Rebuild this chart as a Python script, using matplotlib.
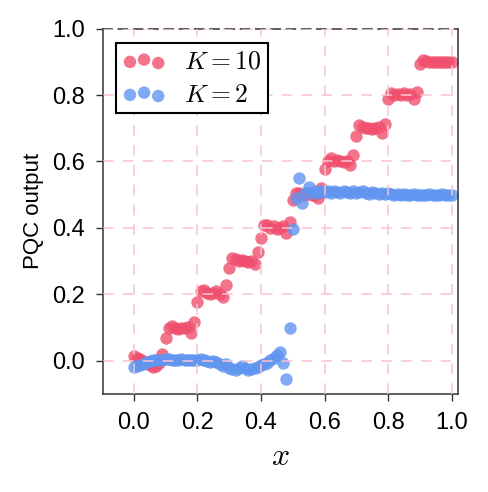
import numpy as np
import matplotlib
matplotlib.use("Agg")
import matplotlib.pyplot as plt

plt.rcParams['font.family'] = ['Liberation Sans', 'DejaVu Sans']
plt.rcParams['mathtext.fontset'] = 'cm'

# sample positions on the x axis
x_vals = [0.00, 0.01, 0.02, 0.03, 0.04, 0.05, 0.06, 0.07, 0.08, 0.09,
          0.10, 0.11, 0.12, 0.13, 0.14, 0.15, 0.16, 0.17, 0.18, 0.19,
          0.20, 0.21, 0.22, 0.23, 0.24, 0.25, 0.26, 0.27, 0.28, 0.29,
          0.30, 0.31, 0.32, 0.33, 0.34, 0.35, 0.36, 0.37, 0.38, 0.39,
          0.40, 0.41, 0.42, 0.43, 0.44, 0.45, 0.46, 0.47, 0.48, 0.49,
          0.50, 0.51, 0.52, 0.53, 0.54, 0.55, 0.56, 0.57, 0.58, 0.59,
          0.60, 0.61, 0.62, 0.63, 0.64, 0.65, 0.66, 0.67, 0.68, 0.69,
          0.70, 0.71, 0.72, 0.73, 0.74, 0.75, 0.76, 0.77, 0.78, 0.79,
          0.80, 0.81, 0.82, 0.83, 0.84, 0.85, 0.86, 0.87, 0.88, 0.89,
          0.90, 0.91, 0.92, 0.93, 0.94, 0.95, 0.96, 0.97, 0.98, 0.99, 1.00]

# PQC output, K = 10 (staircase)
y_k10 = [0.015, 0.010, 0.005, 0.000, -0.005, -0.012, -0.018, -0.015, -0.005, 0.022,
         0.068, 0.100, 0.105, 0.100, 0.095, 0.100, 0.098, 0.102, 0.085, 0.118,
         0.178, 0.210, 0.212, 0.205, 0.200, 0.205, 0.210, 0.200, 0.192, 0.228,
         0.278, 0.310, 0.308, 0.300, 0.305, 0.300, 0.296, 0.300, 0.290, 0.327,
         0.370, 0.408, 0.410, 0.400, 0.405, 0.398, 0.400, 0.405, 0.386, 0.418,
         0.483, 0.505, 0.505, 0.500, 0.500, 0.505, 0.500, 0.500, 0.490, 0.519,
         0.577, 0.600, 0.610, 0.600, 0.605, 0.600, 0.598, 0.602, 0.588, 0.620,
         0.678, 0.710, 0.705, 0.700, 0.702, 0.698, 0.700, 0.705, 0.686, 0.714,
         0.789, 0.805, 0.800, 0.802, 0.800, 0.805, 0.800, 0.802, 0.787, 0.810,
         0.892, 0.906, 0.902, 0.900, 0.900, 0.900, 0.900, 0.900, 0.900, 0.900, 0.900]

# PQC output, K = 2
y_k2 = [-0.017, -0.015, -0.012, -0.008, -0.003, 0.000, 0.002, 0.003, 0.002, 0.004,
        0.005, 0.005, 0.004, 0.003, 0.004, 0.005, 0.004, 0.003, 0.002, 0.003,
        0.004, 0.005, 0.003, 0.000, -0.002, 0.001, -0.003, -0.008, -0.015, -0.010,
        -0.020, -0.025, -0.028, -0.020, -0.015, -0.022, -0.027, -0.025, -0.020, -0.018,
        -0.012, -0.008, -0.005, 0.003, 0.008, 0.018, 0.027, -0.005, -0.055, 0.098,
        0.396, 0.490, 0.550, 0.475, 0.505, 0.523, 0.505, 0.510, 0.505, 0.510,
        0.508, 0.510, 0.505, 0.510, 0.507, 0.505, 0.510, 0.508, 0.505, 0.510,
        0.505, 0.508, 0.510, 0.505, 0.503, 0.508, 0.505, 0.503, 0.505, 0.502,
        0.505, 0.502, 0.500, 0.503, 0.500, 0.502, 0.498, 0.500, 0.502, 0.500,
        0.500, 0.498, 0.500, 0.502, 0.500, 0.498, 0.500, 0.502, 0.500, 0.500, 0.500]

ticks = [0.0, 0.2, 0.4, 0.6, 0.8, 1.0]

fig = plt.figure(figsize=(4.89, 4.92), dpi=100)
ax = fig.add_axes([0.2106, 0.199, 0.726, 0.743])

ax.scatter(x_vals, y_k10, s=80, color='#f0506e', alpha=0.8, linewidths=0, label='$K=10$', zorder=2)
ax.scatter(x_vals, y_k2, s=80, color='#6095f0', alpha=0.8, linewidths=0, label='$K=2$', zorder=2)

ax.set_xlim(-0.097, 1.02)
ax.set_ylim(-0.1, 1.0)
ax.set_xticks(ticks)
ax.set_yticks(ticks)
ax.grid(True, color='#f8c4d4', linestyle=(0, (7, 6)), linewidth=1.1, zorder=3)
ax.set_axisbelow(False)

for side in ['left', 'bottom', 'right', 'top']:
    ax.spines[side].set_color('#333333')
    ax.spines[side].set_linewidth(1.1)
ax.spines['top'].set_linestyle((0, (6, 4)))

ax.tick_params(direction='out', length=5, width=1, color='#333333', labelsize=17, pad=8)

ax.set_xlabel('$x$', fontsize=23, labelpad=6)
ax.set_ylabel('PQC output', fontsize=16, labelpad=6)

leg = ax.legend(loc='upper left', scatterpoints=3, fontsize=18.5, fancybox=False,
                framealpha=1, edgecolor='black', borderpad=0.25, handletextpad=0.7,
                handlelength=1.7, labelspacing=0.35, bbox_to_anchor=(0.0, 0.995))
leg.get_frame().set_linewidth(1.5)

plt.savefig('out.png', dpi=100)
